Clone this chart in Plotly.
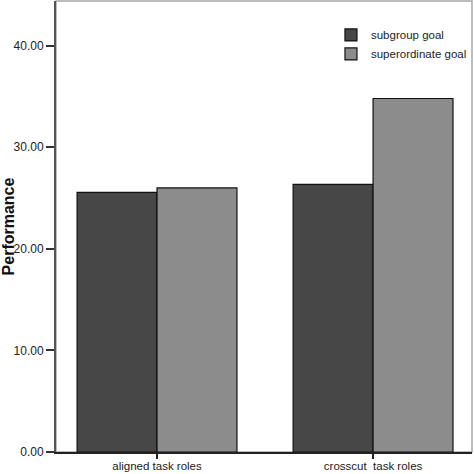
import plotly.graph_objects as go

categories = ["aligned task roles", "crosscut  task roles"]
subgroup = [25.55, 26.35]
superordinate = [26.0, 34.8]
series_names = ["subgroup goal", "superordinate goal"]
y_ticks = [0, 10, 20, 30, 40]
y_tick_labels = ["0.00", "10.00", "20.00", "30.00", "40.00"]

fig = go.Figure()
fig.add_trace(go.Bar(x=categories, y=subgroup, name=series_names[0],
                     marker=dict(color="#474747", line=dict(color="#111111", width=1.2))))
fig.add_trace(go.Bar(x=categories, y=superordinate, name=series_names[1],
                     marker=dict(color="#8c8c8c", line=dict(color="#111111", width=1.2))))

fig.update_layout(
    width=474, height=474,
    margin=dict(l=56, r=2, t=1, b=22, autoexpand=False),
    plot_bgcolor="white", paper_bgcolor="white",
    barmode="group", bargap=0.26, bargroupgap=0,
    font=dict(family="Liberation Sans, Arial, sans-serif", color="#222222", size=12),
    showlegend=True,
    legend=dict(x=0.661, y=0.957, xanchor="left", yanchor="top",
                bgcolor="rgba(0,0,0,0)", font=dict(size=11.5, color="#222222"),
                tracegroupgap=0, itemwidth=30),
    xaxis=dict(range=[-0.4676, 1.458], showline=True, linecolor="#222222", linewidth=1.5,
               ticks="outside", ticklen=5, tickcolor="#222222", tickwidth=1.5,
               ticklabelstandoff=-3,
               tickfont=dict(size=11.5), mirror=False, showgrid=False, fixedrange=True,
               automargin=False),
    yaxis=dict(range=[0, 44.4], tickvals=y_ticks, ticktext=y_tick_labels,
               showline=True, linecolor="#555555", linewidth=2,
               ticks="outside", ticklen=8, tickcolor="#333333", tickwidth=1.5,
               tickfont=dict(size=12), showgrid=False, zeroline=False, automargin=False,
               title=dict(text="<b>Performance</b>", font=dict(size=16, color="#111111"), standoff=6)),
    shapes=[dict(type="rect", xref="paper", yref="paper", x0=0, x1=1, y0=0, y1=1,
                 line=dict(color="#a8a8a8", width=1.5), fillcolor="rgba(0,0,0,0)", layer="below")],
)

fig.write_html("out.html")
